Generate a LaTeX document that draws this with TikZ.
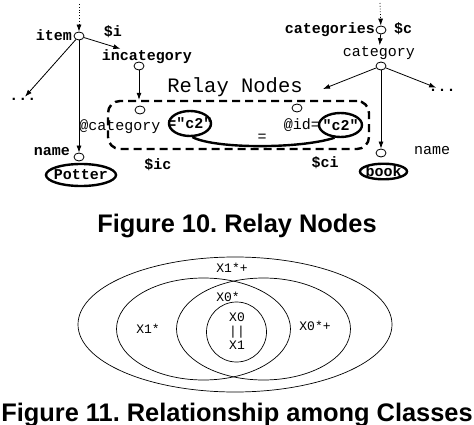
\documentclass[tikz,border=0pt]{standalone}
\usepackage{fontspec}
\setsansfont{Liberation Sans}
\setmonofont{Liberation Mono}
\usetikzlibrary{arrows.meta}
\usetikzlibrary{shapes.geometric}
\frenchspacing

\begin{document}
\begin{tikzpicture}[x=1pt, y=-1pt,
  knot/.style={draw, ellipse, minimum width=10pt, minimum height=8pt, inner sep=0pt, line width=0.8pt},
  tag/.style={font=\fontsize{15}{15}\selectfont\ttfamily\bfseries, inner sep=1pt},
  plaintag/.style={font=\fontsize{15}{15}\selectfont\ttfamily, inner sep=1pt},
  val/.style={draw, ellipse, line width=2.4pt, inner xsep=-10pt, inner ysep=0pt, font=\fontsize{15}{15}\selectfont\ttfamily\bfseries},
  link/.style={-{Latex[length=7pt,width=5pt]}, line width=0.8pt},
  relaybox/.style={draw, line width=2.4pt, dash pattern=on 8pt off 5pt, rounded corners=12pt},
  cls/.style={draw, ellipse, line width=0.7pt, inner sep=0pt},
  member/.style={font=\fontsize{13}{13}\selectfont\ttfamily, inner sep=1pt},
  caption/.style={font=\fontsize{25.4}{25.4}\selectfont\sffamily\bfseries, inner sep=0pt}]
\useasboundingbox (0,0) rectangle (474,425);

% item side
\coordinate (itemin) at (79,4);
\node[knot] (item) at (79,36) {};
\node[tag, anchor=east] (itemlbl) at (73,35) {item};
\node[tag] (ivar) at (113,32) {\$i};
\node[tag] (incatlbl) at (147,57) {incategory};
\node[knot] (incat) at (139,66) {};
\node[tag] (ldots) at (23,99) {...};
\node[knot] (iname) at (79,157) {};
\node[tag, anchor=east] (inamelbl) at (71,152) {name};
\node[val, minimum width=70pt, minimum height=22pt] (potter) at (81,175) {Potter};

% relay nodes
\node[relaybox, minimum width=261pt, minimum height=48pt] (relay) at (238.5,125) {};
\node[font=\fontsize{20.5}{20.5}\selectfont\ttfamily] (relaylbl) at (235,87) {Relay Nodes};
\node[knot] (rleft) at (140,110) {};
\node[knot] (rright) at (297,108) {};
\node[plaintag] (atcat) at (120,127) {@category};
\node[val, minimum width=42pt, minimum height=25pt] (c2a) at (190,123.5) {="c2"};
\node[plaintag, anchor=east] (atid) at (321,125) {@id=};
\node[val, minimum width=43pt, minimum height=24pt] (c2b) at (340.5,125) {"c2"};
\draw[line width=2.4pt] (c2a.-80) .. controls (215,149) and (300,149) .. (c2b.-115);
\node[plaintag] (eq) at (262,138) {=};
\node[tag] (icvar) at (158,165) {\$ic};
\node[tag] (civar) at (325,163) {\$ci};

% categories side
\coordinate (catsin) at (380,3);
\node[knot] (cats) at (381,30) {};
\node[tag, anchor=east] (catslbl) at (376,30) {categories};
\node[tag] (cvar) at (403,29) {\$c};
\node[plaintag] (catlbl) at (379,53) {category};
\node[knot] (cat) at (381,66) {};
\node[tag] (rdots) at (442,90) {...};
\coordinate (catleft) at (323,89);
\node[knot] (cname) at (381,153) {};
\node[plaintag] (cnamelbl) at (432,151) {name};
\node[val, minimum width=47pt, minimum height=15pt] (book) at (383.5,171.5) {book};

\draw[link, dotted] (itemin) -- (item);
\draw[link] (item) -- (incatlbl);
\draw[link] (item) -- (ldots);
\draw[link] (item) -- (iname);
\draw[link] (incat) -- (incat |- relay.north);
\draw[link, dotted] (catsin) -- (cats);
\draw[link] (cats) -- (catlbl);
\draw[link] (cat) -- (catleft);
\draw[link] (cat) -- (rdots);
\draw[link] (cat) -- (cname);

\node[caption, anchor=base] (fig10) at (237,232) {Figure 10. Relay Nodes};

% classes
\node[cls, minimum width=314pt, minimum height=135pt] (univ) at (235,324.5) {};
\node[cls, minimum width=174pt, minimum height=102pt] (xone) at (203.5,329) {};
\node[cls, minimum width=174pt, minimum height=102pt] (xzero) at (263.5,329) {};
\node[cls, circle, minimum size=60pt] (core) at (236.5,332) {};
\node[member] (l1) at (232,268) {X1*+};
\node[member] (l2) at (228,297) {X0*};
\node[member, align=center, font=\fontsize{13}{14}\selectfont\ttfamily] (l3) at (237,331) {X0\\||\\X1};
\node[member] (l4) at (148,329) {X1*};
\node[member] (l5) at (315,326) {X0*+};

\node[caption, anchor=base] (fig11) at (237,421) {Figure 11. Relationship among Classes};
\end{tikzpicture}
\end{document}
